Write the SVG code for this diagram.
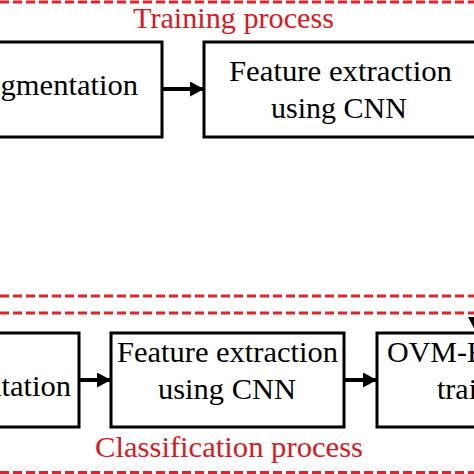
<svg xmlns="http://www.w3.org/2000/svg" width="474" height="474" viewBox="0 0 474 474">
<style>
.box{fill:#fff;stroke:#000;stroke-width:3}
.t{font-family:"Liberation Serif","Times New Roman",serif;font-size:30px;fill:#000}
.r{font-family:"Liberation Serif","Times New Roman",serif;font-size:30px;fill:#d8191e}
.dash{stroke:#e0222a;stroke-width:3;stroke-dasharray:9 4;fill:none}
.ln{stroke:#000;stroke-width:4;fill:none}
</style>
<defs>
<marker id="ah" markerWidth="14" markerHeight="15" refX="14" refY="7.5" orient="auto" markerUnits="userSpaceOnUse">
<path d="M0,0 L14,7.5 L0,15 Z" fill="#000"/>
</marker>
</defs>
<rect width="474" height="474" fill="#fff"/>
<g id="frames">
<line class="dash" x1="0" y1="2" x2="474" y2="2"/>
<line class="dash" x1="0" y1="296" x2="474" y2="296"/>
<line class="dash" x1="0" y1="313" x2="474" y2="313"/>
<line class="dash" x1="0" y1="472.5" x2="474" y2="472.5"/>
<text class="r" x="133" y="28" textLength="201" lengthAdjust="spacingAndGlyphs">Training process</text>
<text class="r" x="95" y="457" textLength="268" lengthAdjust="spacingAndGlyphs">Classification process</text>
</g>
<g id="train-seg">
<rect class="box" x="-60" y="42" width="222" height="95"/>
<text class="t" x="-30" y="95" textLength="168" lengthAdjust="spacingAndGlyphs">Segmentation</text>
</g>
<g id="train-feat">
<rect class="box" x="204" y="42" width="280" height="95"/>
<text class="t" x="229" y="81" textLength="223" lengthAdjust="spacingAndGlyphs">Feature extraction</text>
<text class="t" x="271" y="118" textLength="136" lengthAdjust="spacingAndGlyphs">using CNN</text>
</g>
<g id="cls-seg">
<rect class="box" x="-200" y="333" width="279" height="94"/>
<text class="t" x="-97" y="396" textLength="168" lengthAdjust="spacingAndGlyphs">Segmentation</text>
</g>
<g id="cls-feat">
<rect class="box" x="111" y="333" width="233" height="94"/>
<text class="t" x="117" y="362" textLength="221" lengthAdjust="spacingAndGlyphs">Feature extraction</text>
<text class="t" x="158" y="399" textLength="138" lengthAdjust="spacingAndGlyphs">using CNN</text>
</g>
<g id="cls-ovm">
<rect class="box" x="377" y="333" width="160" height="94"/>
<text class="t" x="387" y="362">OVM-ELM</text>
<text class="t" x="437" y="399">training</text>
</g>
<g id="connectors">
<line class="ln" x1="162" y1="89" x2="204" y2="89" marker-end="url(#ah)"/>
<line class="ln" x1="79" y1="380" x2="111" y2="380" marker-end="url(#ah)"/>
<line class="ln" x1="344" y1="380" x2="377" y2="380" marker-end="url(#ah)"/>
<path d="M468,317 L484,317 L476,332 Z" fill="#000"/>
</g>
</svg>
